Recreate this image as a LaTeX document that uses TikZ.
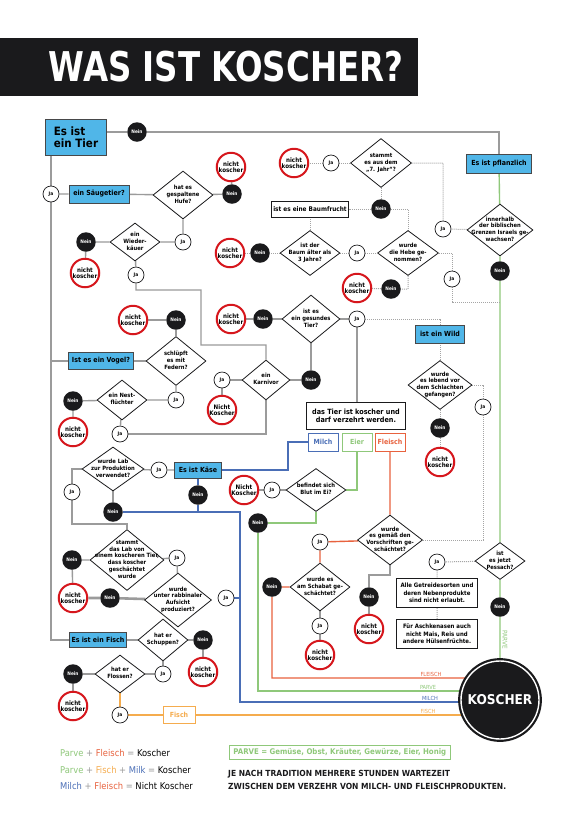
\documentclass[tikz,border=0pt]{standalone}
\usepackage{graphicx}
\usepackage{fontspec}
\setmainfont{DejaVu Sans Condensed}
\usetikzlibrary{shapes.geometric}

\definecolor{boxblau}{RGB}{80,182,232}
\definecolor{nkrot}{RGB}{214,22,28}
\definecolor{linie}{RGB}{155,155,155}
\definecolor{milchc}{RGB}{74,110,182}
\definecolor{parvec}{RGB}{143,200,122}
\definecolor{fleischc}{RGB}{232,98,62}
\definecolor{fischc}{RGB}{245,172,78}
\definecolor{dunkel}{RGB}{26,26,28}

\pgfdeclarelayer{papier}
\pgfdeclarelayer{linien}
\pgfsetlayers{papier,linien,main}

% text of a question, smashed so the diamond keeps its set size
\newcommand{\qq}[1]{\smash{\makebox[0pt]{\raisebox{-1.5pt}{\begin{tabular}{@{}c@{}}#1\end{tabular}}}}}

\tikzset{
  lin/.style={draw=linie, line width=1.4pt},
  punkt/.style={draw=linie!90, line width=1pt, dash pattern=on 1pt off 1pt},
  milchl/.style={draw=milchc, line width=1.4pt},
  parvel/.style={draw=parvec, line width=1.4pt},
  fleischl/.style={draw=fleischc, line width=1.4pt},
  fischl/.style={draw=fischc, line width=1.4pt},
}

\begin{document}
\begin{tikzpicture}[x=1pt, y=-1pt,
    frage/.style={diamond, draw=dunkel, line width=0.8pt, fill=white, inner sep=0pt, font=\fontsize{5.8}{6.8}\selectfont\bfseries},
    ja/.style={circle, draw=dunkel, line width=0.7pt, fill=white, minimum size=16, inner sep=0pt, font=\fontsize{4.8}{5}\selectfont\bfseries},
    nein/.style={circle, fill=dunkel, text=white, minimum size=19.5, inner sep=0pt, font=\fontsize{4.8}{5}\selectfont\bfseries},
    nk/.style={circle, draw=nkrot, line width=2pt, fill=white, minimum size=28.5, inner sep=0pt, align=center, font=\fontsize{6.2}{6}\selectfont\bfseries},
    blaubox/.style={draw=dunkel!80, line width=0.8pt, fill=boxblau, inner sep=1pt, font=\fontsize{7}{8}\selectfont\bfseries},
    weissbox/.style={draw=dunkel, line width=0.8pt, fill=white, align=center, inner sep=1pt, font=\fontsize{6}{7.5}\selectfont\bfseries},
    sorte/.style={draw=#1, line width=0.9pt, fill=white, text=#1, minimum width=30, minimum height=18, inner sep=1pt, font=\fontsize{7}{8}\selectfont\bfseries},
    strang/.style={inner sep=0pt, font=\fontsize{5.6}{6}\selectfont},
    legende/.style={anchor=west, inner sep=0pt, font=\fontsize{9.3}{10}\selectfont},
    titel/.style={text=white, inner sep=0pt, font=\fontsize{41}{44}\selectfont\bfseries},
    koscherk/.style={circle, fill=dunkel, draw=dunkel, double=white, double distance=1.4pt, line width=2.2pt, minimum size=78, text=white, font=\fontsize{13.5}{14}\selectfont\bfseries},
  ]
  \begin{pgfonlayer}{papier}
    \fill[white] (0,0) rectangle (581,820);
  \end{pgfonlayer}
  \useasboundingbox (0,0) rectangle (581,820);

  % title
  \fill[dunkel] (0,38) rectangle (418,96);
  \node[titel] (titel) at (226,67) {\scalebox{0.88}[1]{WAS IST KOSCHER?}};

  % --- Tier ---
  \node[blaubox, font=\fontsize{11.5}{12.5}\selectfont\bfseries, align=left, minimum width=61, minimum height=36] (tier) at (76,137) {Es ist\\ein Tier};
  \node[nein] (n0) at (137,132) {Nein};
  \node[blaubox, minimum width=65, minimum height=19] (pflanz) at (499,164) {Es ist pflanzlich};

  \node[ja] (j1) at (51,194) {Ja};
  \node[blaubox, minimum width=60, minimum height=18] (saeug) at (99,194) {ein Säugetier?};
  \node[frage, minimum width=60, minimum height=48] (hufe) at (183,195) {\qq{hat es\\gespaltene\\Hufe?}};
  \node[nein] (n1) at (232,194) {Nein};
  \node[nk] (nk1) at (231,167) {nicht\\koscher};
  \node[ja] (j2) at (183,242) {Ja};
  \node[frage, minimum width=50, minimum height=38] (wieder) at (135,242) {\qq{ein\\Wieder-\\käuer}};
  \node[nein] (n2) at (86,242) {Nein};
  \node[nk] (nk2) at (85,273) {nicht\\koscher};
  \node[ja] (j3) at (136,275) {Ja};

  \node[frage, minimum width=48, minimum height=40] (karn) at (266,380) {\qq{ein\\Karnivor}};
  \node[ja] (j4) at (222,380) {Ja};
  \node[nk] (nk3) at (222,410) {Nicht\\Koscher};
  \node[nein] (n3) at (311,380) {Nein};
  \node[frage, minimum width=58, minimum height=48] (gesund) at (311,319) {\qq{ist es\\ein gesundes\\Tier?}};
  \node[nein] (n4) at (263,319) {Nein};
  \node[nk] (nk4) at (231,319) {nicht\\koscher};
  \node[ja] (j5) at (357,319) {Ja};

  % Vogel
  \node[blaubox, minimum width=65, minimum height=17] (vogel) at (101,361) {Ist es ein Vogel?};
  \node[frage, minimum width=60, minimum height=49] (feder) at (176,361) {\qq{schlüpft\\es mit\\Federn?}};
  \node[nein] (n5) at (176,320) {Nein};
  \node[nk] (nk5) at (133,320) {nicht\\koscher};
  \node[ja] (j6) at (176,400) {Ja};
  \node[frage, minimum width=50, minimum height=40] (nest) at (122,400) {\qq{ein Nest-\\flüchter}};
  \node[nein] (n6) at (73,401) {Nein};
  \node[nk] (nk6) at (73,432) {nicht\\koscher};
  \node[ja] (j7) at (120,434) {Ja};

  % koscheres Tier
  \node[weissbox, minimum width=99, minimum height=27, font=\fontsize{7.2}{8}\selectfont\bfseries] (tierok) at (356,416) {das Tier ist koscher und\\darf verzehrt werden.};
  \node[sorte=milchc] (milch) at (323,442) {Milch};
  \node[sorte=parvec] (eier) at (357,442) {Eier};
  \node[sorte=fleischc] (fleisch) at (390,442) {Fleisch};

  % Kaese
  \node[blaubox, minimum width=47, minimum height=16] (kaese) at (198,470) {Es ist Käse};
  \node[frage, minimum width=62, minimum height=44] (lab) at (113,469) {\qq{wurde Lab\\zur Produktion\\verwendet?}};
  \node[ja] (j8) at (159,470) {Ja};
  \node[nein] (n7) at (198,495) {Nein};
  \node[nein] (n8) at (113,512) {Nein};
  \node[ja] (j9) at (72,492) {Ja};
  \node[frage, minimum width=74, minimum height=61] (stammt) at (127,560) {\qq{stammt\\das Lab von\\einem koscheren Tier,\\dass koscher\\geschächtet\\wurde}};
  \node[nein] (n9) at (72,560) {Nein};
  \node[nk] (nk7) at (73,598) {nicht\\koscher};
  \node[ja] (j10) at (177,558) {Ja};
  \node[frage, minimum width=67, minimum height=54] (rabb) at (178,600) {\qq{wurde\\unter rabbinaler\\Aufsicht\\produziert?}};
  \node[nein] (n10) at (110,598) {Nein};
  \node[ja] (j11) at (226,598) {Ja};

  % Fisch
  \node[blaubox, minimum width=57, minimum height=15] (fischbox) at (98,640) {Es ist ein Fisch};
  \node[frage, minimum width=50, minimum height=42] (schup) at (163,640) {\qq{hat er\\Schuppen?}};
  \node[nein] (n11) at (203,640) {Nein};
  \node[nk] (nk8) at (203,672) {nicht\\koscher};
  \node[ja] (j12) at (163,674) {Ja};
  \node[frage, minimum width=50, minimum height=38] (floss) at (120,674) {\qq{hat er\\Flossen?}};
  \node[nein] (n12) at (73,674) {Nein};
  \node[nk] (nk9) at (73,706) {nicht\\koscher};
  \node[ja] (j13) at (120,715) {Ja};
  \node[sorte=fischc, minimum width=32, minimum height=17] (fischtag) at (179,715) {Fisch};

  % Pflanze
  \node[frage, minimum width=66, minimum height=52] (israel) at (500,230) {\qq{innerhalb\\der biblischen\\Grenzen Israels ge-\\wachsen?}};
  \node[nein] (n13) at (500,271) {Nein};
  \node[ja] (j15) at (443,229) {Ja};
  \node[frage, minimum width=61, minimum height=49] (jahr) at (381,163) {\qq{stammt\\es aus dem\\„7. Jahr“?}};
  \node[ja] (j16) at (331,163) {Ja};
  \node[nk] (nk10) at (294,163) {nicht\\koscher};
  \node[nein] (n15) at (381,209) {Nein};
  \node[weissbox, minimum width=77, minimum height=16, font=\fontsize{6.4}{7}\selectfont\bfseries] (baum) at (310,209) {ist es eine Baumfrucht};
  \node[frage, minimum width=61, minimum height=45] (hebe) at (408,253) {\qq{wurde\\die Hebe ge-\\nommen?}};
  \node[frage, minimum width=60, minimum height=45] (alt) at (310,253) {\qq{ist der\\Baum älter als\\3 Jahre?}};
  \node[nein] (n16) at (260,253) {Nein};
  \node[nk] (nk11) at (230,253) {nicht\\koscher};
  \node[ja] (j17) at (357,253) {Ja};
  \node[ja] (j18) at (452,279) {Ja};
  \node[nein] (n17) at (391,289) {Nein};
  \node[nk] (nk12) at (357,288) {nicht\\koscher};

  % Wild
  \node[blaubox, minimum width=49, minimum height=18] (wild) at (440,334) {ist ein Wild};
  \node[frage, minimum width=64, minimum height=49] (lebend) at (440,385) {\qq{wurde\\es lebend vor\\dem Schlachten\\gefangen?}};
  \node[nein] (n18) at (440,428) {Nein};
  \node[nk] (nk13) at (440,462) {nicht\\koscher};
  \node[ja] (j19) at (483,407) {Ja};

  % Fleisch
  \node[frage, minimum width=65, minimum height=50] (vorschr) at (390,540) {\qq{wurde\\es gemäß den\\Vorschriften ge-\\schächtet?}};
  \node[ja] (j20) at (320,542) {Ja};
  \node[frage, minimum width=60, minimum height=48] (schabat) at (320,587) {\qq{wurde es\\am Schabat ge-\\schächtet?}};
  \node[nein] (n19) at (272,587) {Nein};
  \node[ja] (j21) at (320,626) {Ja};
  \node[nk] (nk14) at (320,655) {nicht\\koscher};
  \node[nein] (n20) at (369,597) {Nein};
  \node[nk] (nk15) at (369,629) {nicht\\koscher};

  % Eier
  \node[frage, minimum width=60, minimum height=43] (blut) at (316,490) {\qq{befindet sich\\Blut im Ei?}};
  \node[ja] (j22) at (272,490) {Ja};
  \node[nk] (nk16) at (244,490) {Nicht\\Koscher};
  \node[nein] (n21) at (258,523) {Nein};

  % Pessach
  \node[frage, minimum width=50, minimum height=37] (pessach) at (500,561) {\qq{ist\\es jetzt\\Pessach?}};
  \node[nein] (n14) at (500,607) {Nein};
  \node[ja] (j14) at (437,562) {Ja};
  \node[weissbox, minimum width=81, minimum height=29] (getr) at (437,593) {Alle Getreidesorten und\\deren Nebenprodukte\\sind nicht erlaubt.};
  \node[weissbox, minimum width=81, minimum height=29] (aschk) at (437,634) {Für Aschkenasen auch\\nicht Mais, Reis und\\andere Hülsenfrüchte.};

  \node[koscherk] (koscher) at (500,700) {KOSCHER};

  % routing points
  \coordinate (k1) at (201,290);
  \coordinate (k2) at (201,345);
  \coordinate (m1) at (288,470);
  \coordinate (mk) at (240,512);
  \coordinate (s1) at (127,524);
  \coordinate (v1) at (390,575);
  \coordinate (pv) at (500,302);
  \coordinate (yfl) at (500,678);
  \coordinate (ypa) at (500,691);
  \coordinate (ymi) at (500,702);
  \coordinate (yfi) at (500,715);

  \begin{pgfonlayer}{linien}
    \draw[lin] (tier.east |- n0) -- (n0) -| (pflanz);
    \draw[lin] (tier.south -| j1) -- (j1) |- (fischbox);
    \draw[lin] (j1) -- (saeug) -- (hufe) -- (n1) -- (nk1);
    \draw[lin] (hufe) -- (j2) -- (wieder) -- (n2) -- (nk2);
    \draw[lin] (wieder) -- (j3) |- (k1) -- (k2) -| (karn);
    \draw[lin] (karn) -- (j4) -- (nk3);
    \draw[lin] (karn) -- (n3) -- (gesund) -- (n4) -- (nk4);
    \draw[lin] (gesund) -- (j5) -- (j5 |- tierok.north);
    \draw[lin] (karn) |- (j7);
    \draw[lin] (j1 |- vogel) -- (vogel) -- (feder) -- (n5) -- (nk5);
    \draw[lin] (feder) -- (j6) -- (nest) -- (n6) -- (nk6);
    \draw[lin] (nest) -- (j7);

    \draw[lin] (lab) -- (j8) -- (kaese);
    \draw[lin] (lab) -| (j9);
    \draw[lin] (j9) |- (s1) -- (stammt);
    \draw[lin] (stammt) -- (n9) -- (nk7);
    \draw[lin] (stammt) -- (j10) -- (rabb);
    \draw[lin, line width=2.6pt] (rabb) -- (n10) -- (nk7);
    \draw[lin] (lab) -- (n8);
    \draw[milchl] (n8) -- (mk) |- (ymi);
    \draw[milchl] (kaese) -- (n7) -- (n7 |- mk);
    \draw[milchl] (j11) -- (j11 -| mk);
    \draw[milchl] (milch) -| (m1) -- (kaese);

    \draw[lin] (fischbox) -- (schup) -- (n11) -- (nk8);
    \draw[lin] (schup) -- (j12) -- (floss) -- (n12) -- (nk9);
    \draw[fischl] (floss) -- (j13) -- (fischtag) -- (yfi);

    \draw[parvel] (pflanz) -- (israel) -- (n13) -- (pessach) -- (n14) -- (koscher);
    \draw[punkt] (israel) -- (j15) |- (jahr);
    \draw[punkt] (jahr) -- (j16) -- (nk10);
    \draw[punkt] (jahr) -- (n15) -- (baum);
    \draw[punkt] (n15) -| (hebe);
    \draw[punkt] (baum) -- (alt) -- (n16) -- (nk11);
    \draw[punkt] (alt) -- (j17) -- (hebe);
    \draw[punkt] (hebe) -| (j18) |- (pv);
    \draw[punkt] (hebe) |- (n17) -- (nk12);
    \draw[punkt] (j5) -| (wild);
    \draw[punkt] (wild) -- (lebend) -- (n18) -- (nk13);
    \draw[punkt] (lebend) -| (j19) |- (vorschr);
    \draw[punkt] (pessach) -- (j14) -- (getr) -- (aschk);

    \draw[fleischl] (fleisch) -- (vorschr) -- (j20) -- (schabat) -- (n19) |- (yfl);
    \draw[lin] (vorschr) -- (v1) -| (n20);
    \draw[lin] (n20) -- (nk15);
    \draw[lin] (schabat) -- (j21) -- (nk14);
    \draw[parvel] (eier) |- (blut);
    \draw[lin] (blut) -- (j22) -- (nk16);
    \draw[parvel] (blut) |- (n21);
    \draw[parvel] (n21) |- (ypa);
  \end{pgfonlayer}

  % strand labels
  \node[strang, text=fleischc] (lfl) at (431,674) {FLEISCH};
  \node[strang, text=parvec] (lpa) at (428,687) {PARVE};
  \node[strang, text=milchc] (lmi) at (430,698) {MILCH};
  \node[strang, text=fischc] (lfi) at (428,711) {FISCH};
  \node[strang, text=parvec, rotate=-90, font=\fontsize{6.4}{7}\selectfont] (lpv) at (505,640) {PARVE};

  % legend
  \node[legende] (leg1) at (60,753) {\textcolor{parvec}{Parve} \textcolor{linie}{+} \textcolor{fleischc}{Fleisch} \textcolor{linie}{=} Koscher};
  \node[legende] (leg2) at (60,770) {\textcolor{parvec}{Parve} \textcolor{linie}{+} \textcolor{fischc}{Fisch} \textcolor{linie}{+} \textcolor{milchc}{Milk} \textcolor{linie}{=} Koscher};
  \node[legende] (leg3) at (60,786) {\textcolor{milchc}{Milch} \textcolor{linie}{+} \textcolor{fleischc}{Fleisch} \textcolor{linie}{=} Nicht Koscher};
  \node[draw=parvec, line width=0.8pt, text=parvec, anchor=west, minimum height=14, inner xsep=4pt, font=\fontsize{7.8}{9}\selectfont\bfseries] (parvebox) at (229,752.5) {PARVE = Gemüse, Obst, Kräuter, Gewürze, Eier, Honig};
  \node[anchor=west, align=left, inner sep=0pt, text=dunkel, font=\fontsize{8.4}{13}\selectfont\bfseries] (hinweis) at (228,779.5) {JE NACH TRADITION MEHRERE STUNDEN WARTEZEIT\\ZWISCHEN DEM VERZEHR VON MILCH- UND FLEISCHPRODUKTEN.};
\end{tikzpicture}
\end{document}
